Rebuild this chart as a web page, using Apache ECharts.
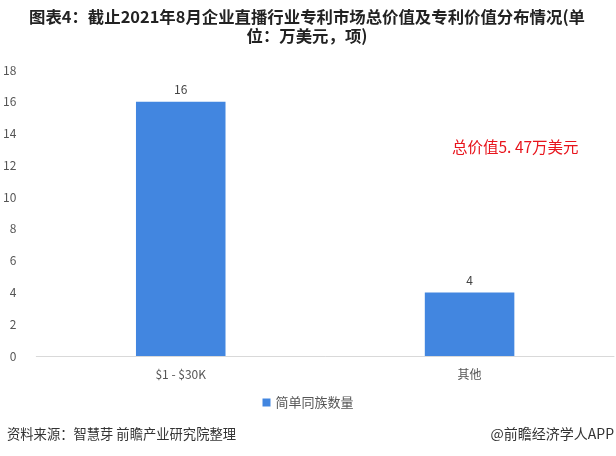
<!DOCTYPE html>
<html><head><meta charset="utf-8">
<script src="https://cdn.jsdelivr.net/npm/echarts@6/dist/echarts.min.js"></script>
<style>html,body{margin:0;padding:0;background:#fff}#c{width:616px;height:456px}</style>
</head><body><div id="c"></div>
<script>
const categories = ['$1 - $30K', '其他'];
const values = [16, 4];
const seriesName = '简单同族数量';
const yTicks = {min: 0, max: 18, interval: 2};

const chart = echarts.init(document.getElementById('c'), null, {renderer: 'canvas'});
const font = '"Noto Sans CJK SC", "Noto Sans", sans-serif';
chart.setOption({
  animation: false,
  legend: {
    data: [seriesName], bottom: 42, left: 'center', itemWidth: 8, itemHeight: 8, itemGap: 5,
    icon: 'rect', textStyle: {fontFamily: font, fontSize: 13, color: '#555'}
  },
  grid: {left: 32, right: 2, top: 70, bottom: 100},
  xAxis: {
    type: 'category', data: categories,
    axisLine: {lineStyle: {color: '#d9d9d9'}}, axisTick: {show: false},
    axisLabel: {fontFamily: font, fontSize: 12, color: '#555', margin: 12}
  },
  yAxis: {
    type: 'value', min: yTicks.min, max: yTicks.max, interval: yTicks.interval,
    splitLine: {show: false}, axisLine: {show: false}, axisTick: {show: false},
    axisLabel: {fontFamily: font, fontSize: 12, color: '#555', margin: 20}
  },
  series: [{
    name: seriesName, type: 'bar', data: values, barWidth: '31%',
    itemStyle: {color: '#4286e0'},
    label: {show: true, position: 'top', fontFamily: font, fontSize: 12, color: '#444', distance: 6}
  }],
  graphic: [
    {type: 'text', x: 307, y: 9, style: {text: '图表4：截止2021年8月企业直播行业专利市场总价值及专利价值分布情况(单', font: 'bold 16.4px ' + font, fill: '#222', textAlign: 'center'}},
    {type: 'text', x: 307, y: 28, style: {text: '位：万美元，项)', font: 'bold 16.4px ' + font, fill: '#222', textAlign: 'center'}},
    {type: 'text', left: 452, top: 139, style: {text: '总价值5. 47万美元', font: '15.5px ' + font, fill: '#e8141c'}},
    {type: 'text', left: 7, top: 427, style: {text: '资料来源：智慧芽 前瞻产业研究院整理', font: '13.3px ' + font, fill: '#333'}},
    {type: 'text', right: 2, top: 427, style: {text: '@前瞻经济学人APP', font: '14px ' + font, fill: '#333'}}
  ]
});
</script></body></html>
